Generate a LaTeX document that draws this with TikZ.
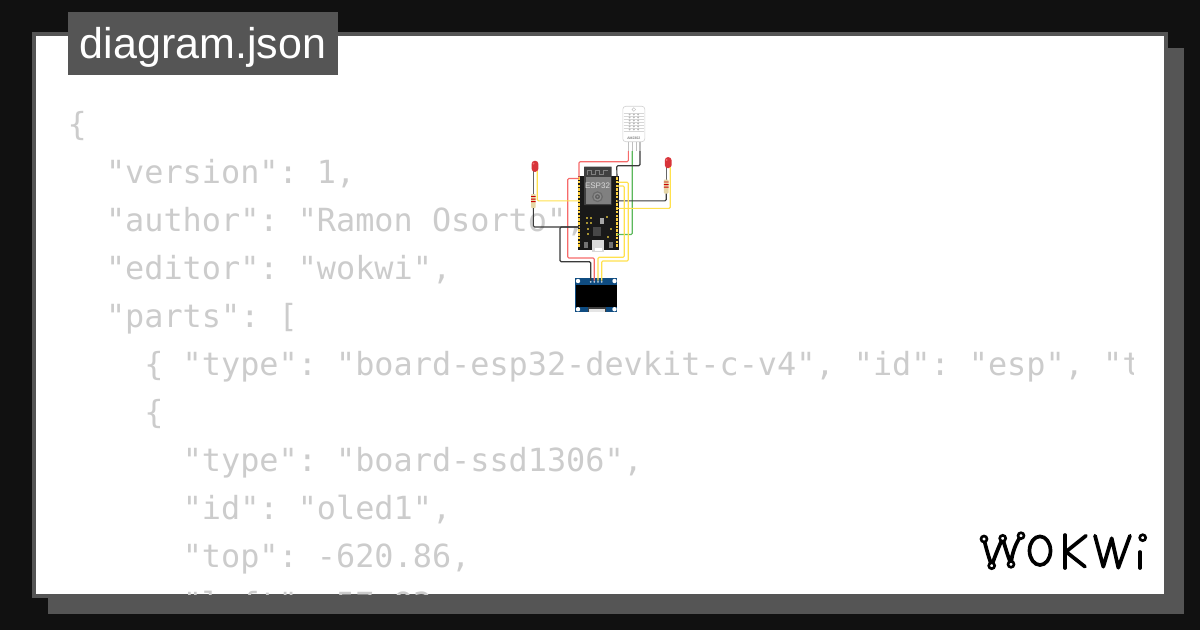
\documentclass[tikz,border=0pt]{standalone}
\usepackage{fontspec}
\setmainfont{Liberation Sans}
\newfontfamily\codefont{DejaVu Sans Mono}
\definecolor{bgdark}{HTML}{111111}
\definecolor{frame}{HTML}{555555}
\definecolor{codegray}{HTML}{CCCCCC}
\definecolor{wred}{HTML}{F66A6A}
\definecolor{wgreen}{HTML}{5CB85C}
\definecolor{wyellow}{HTML}{FFE14D}
\definecolor{wblack}{HTML}{3A3A3A}
\definecolor{oledblue}{HTML}{0F4C81}
\definecolor{ledred}{HTML}{D8343A}
\definecolor{restan}{HTML}{E6D6A6}
\tikzset{
  codeline/.style={anchor=base west,inner sep=0pt,text=codegray,font=\codefont\fontsize{31.85}{32}\selectfont},
  wire/.style={line width=1.15pt,rounded corners=1.2pt},
  logo/.style={line width=3.7pt,line cap=round,line join=round,black},
  logodot/.style={circle,draw=black,line width=2.6pt,fill=white,minimum size=6pt,inner sep=0pt},
  pinpad/.style={fill=wyellow!85!orange,minimum size=2.5pt,inner sep=0pt},
  hole/.style={circle,fill=white,minimum size=4.4pt,inner sep=0pt},
  ledbody/.style={fill=ledred,rounded corners=2.9pt,minimum width=6.6pt,minimum height=11pt,inner sep=0pt},
  resbody/.style={fill=restan,rounded corners=.8pt,minimum width=4.6pt,minimum height=14pt,inner sep=0pt},
}
\frenchspacing
\begin{document}
\begin{tikzpicture}[x=1pt,y=-1pt]
\useasboundingbox (0,0) rectangle (1200,630);
\fill[bgdark] (0,0) rectangle (1200,630);
\fill[frame] (48,48) rectangle (1184,614);
\fill[frame] (32,32) rectangle (1168,598);
\fill[white] (36,36) rectangle (1164,594);
\begin{scope}
\clip (60,90) rectangle (1133,594);
\node[codeline] (l1) at (67.5,135) {\{};
\node[codeline] (l2) at (67.5,183) {\ \ "version": 1,};
\node[codeline] (l3) at (67.5,231) {\ \ "author": "Ramon Osorto",};
\node[codeline] (l4) at (67.5,279) {\ \ "editor": "wokwi",};
\node[codeline] (l5) at (67.5,327) {\ \ "parts": [};
\node[codeline] (l6) at (67.5,375) {\ \ \ \ \{ "type": "board-esp32-devkit-c-v4", "id": "esp", "t};
\node[codeline] (l7) at (67.5,423) {\ \ \ \ \{};
\node[codeline] (l8) at (67.5,471) {\ \ \ \ \ \ "type": "board-ssd1306",};
\node[codeline] (l9) at (67.5,519) {\ \ \ \ \ \ "id": "oled1",};
\node[codeline] (l10) at (67.5,567) {\ \ \ \ \ \ "top": -620.86,};
\node[codeline] (l11) at (67.5,615) {\ \ \ \ \ \ "left": 57.83,};
\end{scope}
\fill[frame] (68,12) rectangle (338,75);
\node[anchor=base,text=white,inner sep=0pt,font=\fontsize{43}{43}\selectfont] (title) at (203,58) {diagram.json};

% DHT22
\node[fill=white,draw=black!18,line width=.6pt,rounded corners=3pt,minimum width=22pt,minimum height=35.5pt,inner sep=0pt] (dht) at (633.8,124) {};
\fill[white,draw=black!25,line width=.4pt] (633.8,109.5) circle (1.8);
\foreach \yy in {113,116,119,122,125,128,131}{\draw[black!16,line width=.9pt] (623.5,\yy) -- (644,\yy);}
\foreach \xx in {629.5,633.8,638}{\foreach \yy in {114.5,117.5,120.5,123.5,126.5,129.5}{\fill[black!28] (\xx,\yy) circle (1);}}
\node[inner sep=0pt,font=\fontsize{3.5}{3.5}\selectfont,text=black!70] (dhtlab) at (633.8,138) {AM2302};
\foreach \n/\xx in {1/628.4,2/632.3,3/636.1,4/640}{
  \coordinate (d\n) at (\xx,151);
  \draw[black!25,line width=1.1pt] (\xx,141.5) -- (d\n);
}

% ESP32
\node[fill=black!90,minimum width=41.5pt,minimum height=74pt,inner sep=0pt] (esp) at (598.4,213) {};
\fill[black!75,rounded corners=.5pt] (584,166.7) rectangle (611.7,205);
\draw[black!50,line width=.5pt] (587,175) -- (587,170) -- (591,170) -- (591,174) -- (595,174) -- (595,170) -- (599,170) -- (599,174) -- (603,174) -- (603,170) -- (608,170);
\node[fill=black!50,minimum width=25pt,minimum height=27pt,inner sep=0pt] (shield) at (598,190.5) {};
\node[inner sep=0pt,text=black!15,font=\fontsize{8}{8}\selectfont] (esplab) at (597.5,186) {ESP32};
\foreach \rr/\cc in {5.5/58,4/45,2.5/62,1/45}{\fill[black!\cc] (597.5,196.7) circle (\rr);}
\foreach \i in {0,...,18}{
  \node[pinpad] (pl\i) at (579,{178.5+3.73*\i}) {};
  \node[pinpad] (pr\i) at (617,{178.5+3.73*\i}) {};
}
\fill[black!72] (592.5,226.5) rectangle (601,236);
\fill[black!35] (599.5,217.5) rectangle (604,224);
\fill[black!15] (592,240) rectangle (604,252);
\fill[white] (594.5,247.5) rectangle (601.5,251);
\foreach \pp in {(585.5,217),(590,217),(585.5,222),(590,222),(587,228),(587,233),(606,216),(610,228),(607,236)}{\fill[wyellow!65!black] \pp rectangle ++(2,2);}
\fill[black!55] (583.5,242) rectangle (587.5,248);
\fill[black!55] (609,242) rectangle (613,248);

% OLED
\node[fill=oledblue,minimum width=42pt,minimum height=33.5pt,inner sep=0pt] (oled) at (596.3,295) {};
\fill[black] (576.3,285) rectangle (616.7,306.7);
\fill[black!75] (587.7,306.7) rectangle (605.7,311.7);
\fill[white!80!gray] (589,309) rectangle (604.5,311.7);
\node[hole] (h1) at (578,281) {};
\node[hole] (h2) at (614.5,281) {};
\node[hole] (h3) at (578,309.2) {};
\node[hole] (h4) at (614.5,309.2) {};
\foreach \n/\xx in {1/590.7,2/594.3,3/598,4/601.7}{
  \coordinate (o\n) at (\xx,280.5);
  \fill[white!75!oledblue] (\xx,281.8) circle (1);
}

% LEDs and resistors
\draw[black!60,line width=1pt] (533.4,170) -- (533.4,195);
\node[ledbody] (led1) at (535,166.3) {};
\fill[red!45!white,opacity=.7] (533.5,163.5) circle (1);
\node[resbody] (res1) at (533.4,201) {};
\fill[red!80!black] (531.1,196) rectangle (535.7,196.9) (531.1,198.6) rectangle (535.7,199.5) (531.1,201.2) rectangle (535.7,202.1);
\draw[black!60,line width=1pt] (666.4,167) -- (666.4,180);
\node[ledbody] (led2) at (668.2,162.7) {};
\fill[red!45!white,opacity=.7] (666.7,160) circle (1);
\node[resbody] (res2) at (666.2,186.5) {};
\fill[red!80!black] (663.9,181.5) rectangle (668.5,182.4) (663.9,184.1) rectangle (668.5,185) (663.9,186.7) rectangle (668.5,187.6);
\coordinate (l1y) at (537.3,171);
\coordinate (l2y) at (670.3,167);

% wires
\draw[wire,wred] (d1) |- (579,161.7) -- (pl0.north);
\draw[wire,wgreen] (d2) -- (632.3,234.5) -- (pr15.center);
\draw[wire,wblack] (d4) |- (616.7,165.7) -- (pr0.north);
\draw[wire,wred] (o2) |- (567.7,258) |- (pl0.center);
\draw[wire,wblack] (o1) |- (560,261.7) |- (pl13.center);
\draw[wire,wblack] (res1.south) |- (pl13.center);
\draw[wire,wyellow] (l1y) |- (pl6.center);
\draw[wire,wyellow] (l2y) |- (pr8.center);
\draw[wire,wblack] (res2.south) |- (pr6.center);
\draw[wire,wyellow] (o3) |- (624.3,257.3) |- (pr2.center);
\draw[wire,wyellow] (o4) |- (628.3,261) |- (pr1.center);

% logo
\draw[logo] (984,539) .. controls (986,548) and (989,558) .. (991.7,565.7) .. controls (995,556) and (999,546) .. (1002.7,538.3) .. controls (1005,547) and (1008,556) .. (1011,564.3) .. controls (1012,552) and (1016,543) .. (1021,535.7);
\draw[logo] (1040,550.7) ellipse (10.5 and 14.3);
\draw[logo] (1065,535) -- (1065,568);
\draw[logo] (1086,535.7) -- (1066,551.7) -- (1085,566.7);
\draw[logo] (1095,535.7) -- (1103.3,566.7) -- (1111.7,538.3) -- (1118.3,567.7) -- (1130,535.7);
\draw[logo] (1140,552) -- (1140,568);
\node[logodot] (w1) at (984,539) {};
\node[logodot] (w2) at (1002.7,538.3) {};
\node[logodot] (w3) at (1021,535.7) {};
\node[logodot] (w4) at (991.7,565.7) {};
\node[logodot] (w5) at (1011,564.3) {};
\node[logodot] (w6) at (1142.7,537.7) {};
\end{tikzpicture}
\end{document}
